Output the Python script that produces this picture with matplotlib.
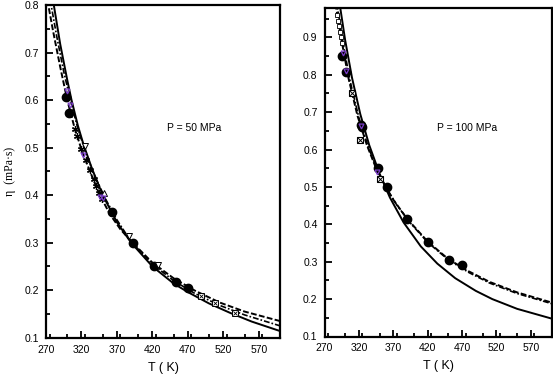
import matplotlib
matplotlib.use("Agg")
import matplotlib.pyplot as plt
from matplotlib.ticker import MultipleLocator

plt.rcParams['font.family'] = ['Liberation Sans', 'DejaVu Sans']

# ---------------- data: P = 50 MPa ----------------
T_s50 = [279, 281, 290, 300, 306, 315, 323, 335, 350, 370, 390, 420, 450, 470, 500, 530, 560, 600]
eta_s50 = [0.815, 0.80, 0.718, 0.642, 0.60, 0.546, 0.506, 0.455, 0.40, 0.343, 0.300, 0.250, 0.214, 0.196, 0.172, 0.152, 0.134, 0.114]
T_d50 = [272, 280, 290, 300, 310, 320, 332, 345, 360, 375, 390, 420, 450, 480, 515, 550, 600]
eta_d50 = [0.81, 0.745, 0.67, 0.60, 0.543, 0.496, 0.450, 0.403, 0.360, 0.328, 0.303, 0.258, 0.225, 0.199, 0.174, 0.155, 0.135]
T_dd50 = [276, 285, 295, 305, 315, 327, 340, 355, 370, 390, 420, 450, 480, 515, 550, 600]
eta_dd50 = [0.81, 0.735, 0.66, 0.596, 0.540, 0.485, 0.436, 0.389, 0.348, 0.302, 0.255, 0.220, 0.193, 0.168, 0.148, 0.125]

T_circ50 = [297.7, 302.8, 362.5, 392, 422, 453, 470.5]
eta_circ50 = [0.607, 0.573, 0.365, 0.300, 0.250, 0.217, 0.204]
T_tdn50 = [325, 387, 428]
eta_tdn50 = [0.503, 0.313, 0.252]
T_tup50 = [352]
eta_tup50 = [0.405]
T_ast50 = [311, 314, 320, 326, 332, 337, 341, 345, 349]
eta_ast50 = [0.540, 0.525, 0.498, 0.474, 0.452, 0.434, 0.419, 0.405, 0.392]
T_sq50 = [489, 508, 536]
eta_sq50 = [0.188, 0.174, 0.152]
T_pur50 = [299, 303.8, 322.5, 346, 350.7]
eta_pur50 = [0.62, 0.59, 0.485, 0.397, 0.394]

# ---------------- data: P = 100 MPa ----------------
T_s100 = [292, 300, 310, 322, 335, 350, 365, 385, 410, 434, 460, 490, 514, 550, 600]
eta_s100 = [0.99, 0.893, 0.792, 0.695, 0.612, 0.536, 0.472, 0.405, 0.341, 0.295, 0.256, 0.222, 0.200, 0.174, 0.148]
T_d100 = [286, 295, 305, 318, 332, 345, 355, 370, 390, 420, 450, 480, 510, 550, 600]
eta_d100 = [0.99, 0.89, 0.79, 0.69, 0.61, 0.55, 0.512, 0.466, 0.415, 0.354, 0.307, 0.274, 0.246, 0.218, 0.191]
T_dd100 = [288, 297, 307, 320, 334, 348, 360, 375, 395, 420, 450, 480, 510, 550, 600]
eta_dd100 = [0.99, 0.885, 0.785, 0.685, 0.605, 0.54, 0.497, 0.452, 0.403, 0.352, 0.305, 0.271, 0.243, 0.215, 0.188]

T_circ100 = [295.7, 300.6, 322.5, 324, 348, 361, 390.5, 421, 451, 469.7]
eta_circ100 = [0.849, 0.807, 0.667, 0.660, 0.552, 0.499, 0.415, 0.352, 0.305, 0.291]
T_xsq100 = [310, 321, 350]
eta_xsq100 = [0.752, 0.625, 0.522]
T_top100 = [288, 289.5, 291, 292.5, 294, 295.5]
eta_top100 = [0.96, 0.945, 0.93, 0.915, 0.90, 0.885]
T_pur100 = [296.5, 301.5, 323.5, 346.5]
eta_pur100 = [0.858, 0.81, 0.662, 0.54]

x_ticks = [270, 320, 370, 420, 470, 520, 570]
panel_labels = ["P = 50 MPa", "P = 100 MPa"]

W, H = 553, 375
fig = plt.figure(figsize=(W / 100, H / 100), dpi=100)
ax1 = fig.add_axes([46 / W, 1 - 337.7 / H, (280 - 46) / W, (337.7 - 5) / H])
ax2 = fig.add_axes([324.5 / W, 1 - 336.5 / H, (551.5 - 324.5) / W, (336.5 - 7.5) / H])

purple = '#7a3cc8'
ls_dash = (0, (3.0, 1.2))
ls_dd = (0, (3.5, 1.2, 1.0, 1.2))


def style(ax, ylim):
    ax.set_xlim(270, 600)
    ax.set_ylim(*ylim)
    ax.xaxis.set_major_locator(MultipleLocator(50))
    ax.xaxis.set_minor_locator(MultipleLocator(25))
    ax.set_xticks(x_ticks)
    ax.yaxis.set_major_locator(MultipleLocator(0.1))
    ax.yaxis.set_minor_locator(MultipleLocator(0.05))
    ax.tick_params(which='both', direction='in', top=False, right=False,
                   labelsize=7.5, width=1.3, pad=5)
    ax.tick_params(which='major', length=5)
    ax.tick_params(which='minor', length=3)
    for s in ax.spines.values():
        s.set_linewidth(1.6)
    ax.set_xlabel("T ( K)", fontsize=9, labelpad=5)


# left panel
ax1.plot(T_s50, eta_s50, color='black', lw=1.4, ls='-')
ax1.plot(T_d50, eta_d50, color='black', lw=1.4, ls=ls_dash)
ax1.plot(T_dd50, eta_dd50, color='black', lw=1.2, ls=ls_dd)
ax1.plot(T_circ50, eta_circ50, 'o', color='black', ms=6)
ax1.plot(T_tdn50, eta_tdn50, 'v', mfc='white', mec='black', ms=5, mew=0.7)
ax1.plot(T_tup50, eta_tup50, '^', mfc='white', mec='black', ms=5, mew=0.7)
ax1.plot(T_ast50, eta_ast50, marker=(6, 2, 0), ls='none', color='black', ms=5, mew=0.9)
ax1.plot(T_sq50, eta_sq50, 's', mfc='white', mec='black', ms=4, mew=0.7)
ax1.plot(T_sq50, eta_sq50, 'x', color='black', ms=3.5, mew=0.6)
ax1.plot(T_pur50, eta_pur50, 'v', mfc='none', mec=purple, ms=3.5, mew=0.9)
ax1.text(478.5, 0.541, panel_labels[0], fontsize=7.5, ha='center', va='center')
style(ax1, (0.1, 0.8))
ax1.set_ylabel("η  (mPa·s)", fontsize=8.5, family=['Liberation Serif', 'DejaVu Serif'], labelpad=6)

# right panel
ax2.plot(T_s100, eta_s100, color='black', lw=1.4, ls='-')
ax2.plot(T_d100, eta_d100, color='black', lw=1.4, ls=ls_dash)
ax2.plot(T_dd100, eta_dd100, color='black', lw=1.2, ls=ls_dd)
ax2.plot(T_circ100, eta_circ100, 'o', color='black', ms=6)
ax2.plot(T_xsq100, eta_xsq100, 's', mfc='white', mec='black', ms=5, mew=0.8)
ax2.plot(T_xsq100, eta_xsq100, 'x', color='black', ms=4.5, mew=0.7)
ax2.plot(T_top100, eta_top100, 's', mfc='white', mec='black', ms=3, mew=0.6)
ax2.plot(T_pur100, eta_pur100, 'v', mfc='none', mec=purple, ms=3.5, mew=0.9)
ax2.text(477.4, 0.659, panel_labels[1], fontsize=7.5, ha='center', va='center')
style(ax2, (0.1, 0.98))

fig.savefig("out.png", dpi=100)
